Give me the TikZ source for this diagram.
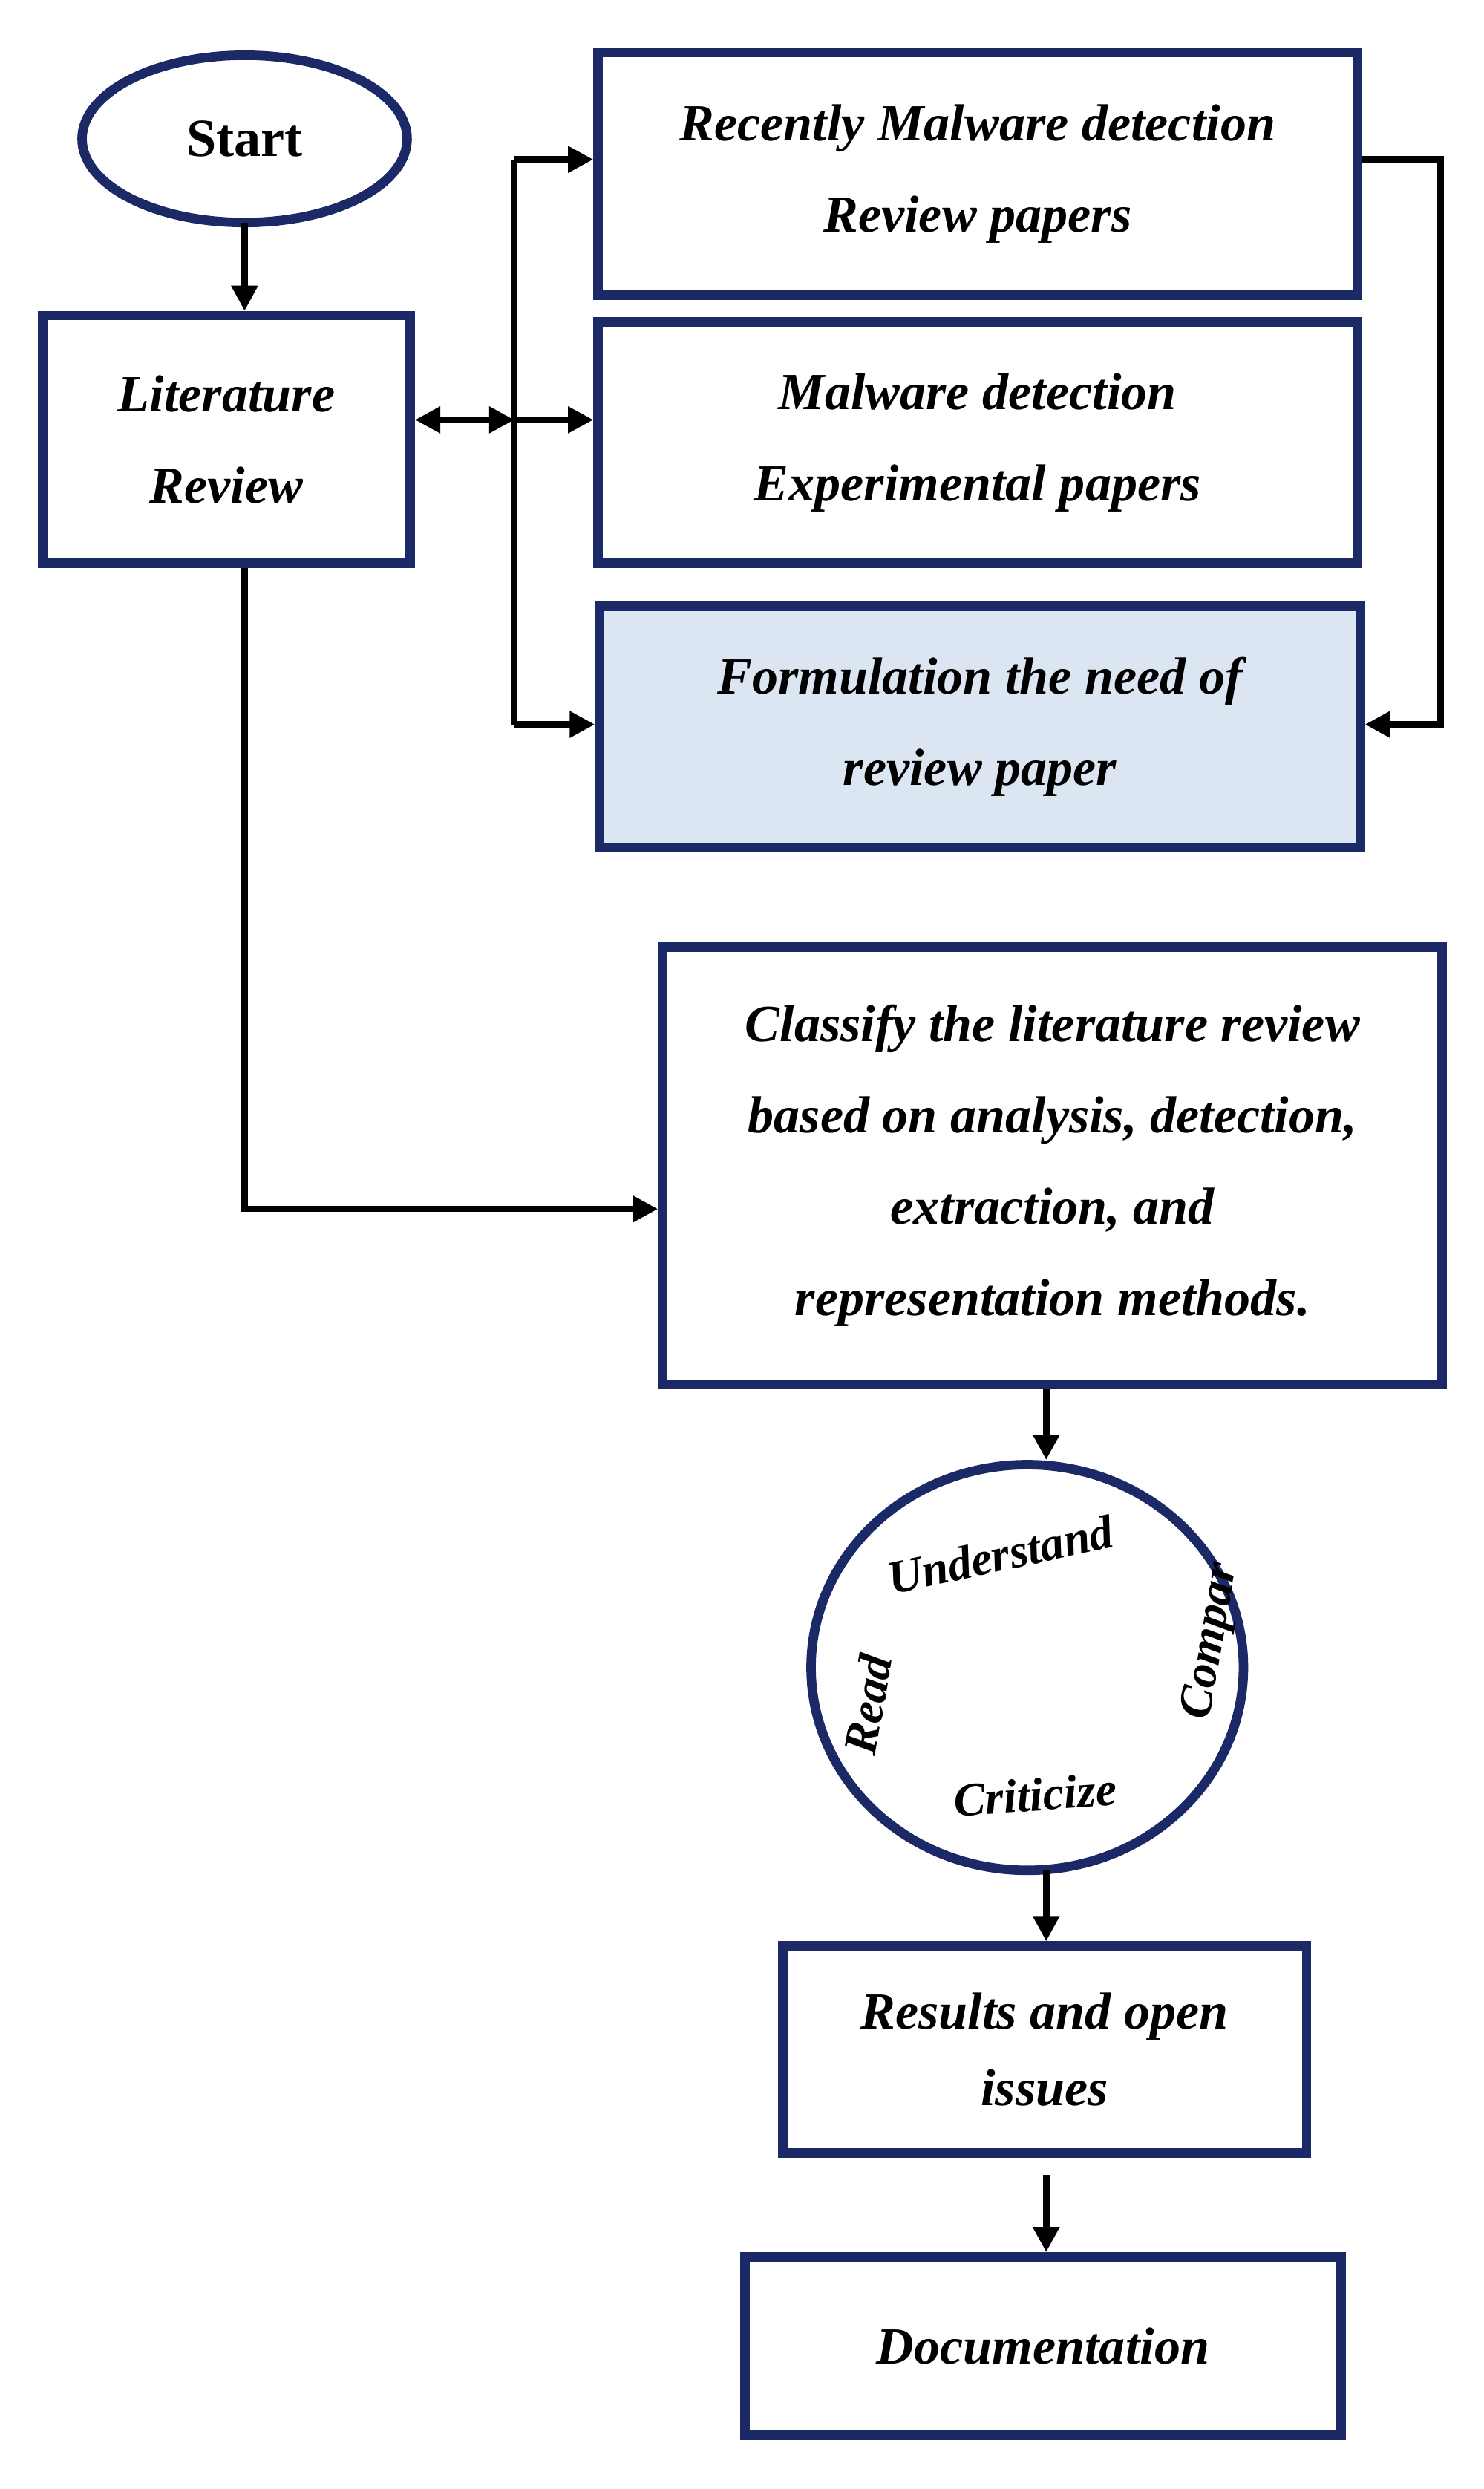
\documentclass[tikz,border=0pt]{standalone}
\usepackage{fontspec}
\setmainfont{Liberation Serif}
\usetikzlibrary{arrows.meta,shapes.geometric}
\definecolor{navy}{HTML}{1B2A66}
\definecolor{lblue}{HTML}{DCE6F2}
\begin{document}
\begin{tikzpicture}[x=1pt,y=-1pt,
 box/.style={draw=navy,line width=6pt,inner sep=0pt,align=center,
   font=\fontsize{33}{58}\selectfont\bfseries\itshape},
 arr/.style={line width=4pt,-{Triangle[length=16pt,width=16pt]}},
 ln/.style={line width=4pt},
 ct/.style={font=\fontsize{30}{30}\selectfont\bfseries\itshape,inner sep=0pt}]
\useasboundingbox (0,0) rectangle (940,1577);
\node[box,ellipse,minimum width=206pt,minimum height=106pt,font=\fontsize{34}{40}\selectfont\bfseries] (start) at (155,88) {Start};
\node[box,minimum width=233pt,minimum height=157pt] (lit) at (143.5,278.5) {Literature\\Review};
\node[box,minimum width=481pt,minimum height=154pt] (b1) at (619.5,110) {Recently Malware detection\\Review papers};
\node[box,minimum width=481pt,minimum height=153pt] (b2) at (619.5,280.5) {Malware detection\\Experimental papers};
\node[box,fill=lblue,minimum width=482pt,minimum height=153pt] (b3) at (621,460.5) {Formulation the need of\\review paper};
\node[box,minimum width=494pt,minimum height=277pt] (b4) at (667,738.5) {Classify the literature review\\based on analysis, detection,\\extraction, and\\representation methods.};
\node[box,ellipse,minimum width=274pt,minimum height=257pt] (c) at (651,1056.5) {};
\node[box,minimum width=332pt,minimum height=131pt,font=\fontsize{33}{48}\selectfont\bfseries\itshape] (b5) at (662,1298.5) {Results and open\\issues};
\node[box,minimum width=378pt,minimum height=113pt] (b6) at (661,1486.5) {Documentation};
\node[ct,rotate=12] (t1) at (634,985) {Understand};
\node[ct,rotate=80] (t2) at (768,1040) {Compar};
\node[ct,rotate=80] (t3) at (550,1080) {Read};
\node[ct,rotate=4] (t4) at (656,1137) {Criticize};
\coordinate (j) at (326,266);
\coordinate (jt) at (326,101);
\coordinate (jb) at (326,459);
\coordinate (s) at (155,141);
\draw[arr] (s) -- (s|-lit.north);
\draw[line width=4pt,{Triangle[length=16pt,width=16pt]}-{Triangle[length=16pt,width=16pt]}] (lit.east|-j) -- (j);
\draw[ln] (jt) -- (jb);
\draw[arr] (jt) -- (b1.west|-jt);
\draw[arr] (j) -- (b2.west|-j);
\draw[arr] (jb) -- (b3.west|-jb);
\coordinate (r1) at (913,101);
\coordinate (r2) at (913,459);
\draw[arr] (b1.east|-r1) -- (r1) -- (r2) -- (b3.east|-r2);
\coordinate (lk) at (155,766);
\draw[arr] (lit.south-|lk) -- (lk) -- (b4.west|-lk);
\coordinate (a1) at (663,880);
\draw[arr] (a1) -- (a1|-c.north);
\coordinate (a2) at (663,1185);
\draw[arr] (a2) -- (a2|-b5.north);
\coordinate (a3) at (663,1378);
\draw[arr] (a3) -- (a3|-b6.north);
\end{tikzpicture}
\end{document}
